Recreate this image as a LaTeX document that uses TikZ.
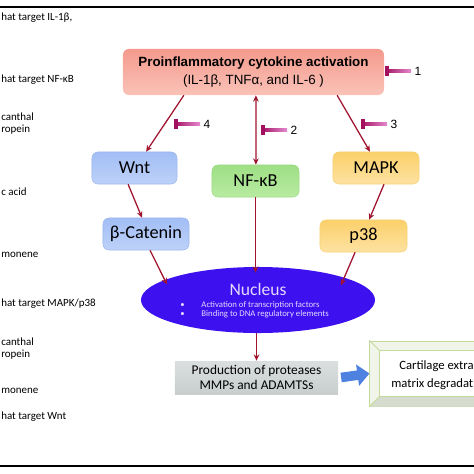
\documentclass[tikz,border=0pt]{standalone}
\usepackage{fontspec}
\setmainfont{Carlito}
\newfontfamily\arialfont{Liberation Sans}
\usetikzlibrary{shapes.geometric,arrows.meta}

\definecolor{arrowred}{HTML}{A0142E}
\definecolor{inhdark}{HTML}{A3105F}
\definecolor{inhlight}{HTML}{E58AD0}
\definecolor{nucblue}{HTML}{3D10F0}
\definecolor{nuctext}{HTML}{E2DAFF}
\definecolor{fatblue}{HTML}{4F81E0}
\definecolor{cartgreen}{HTML}{C4DA9C}
\definecolor{cartbg}{HTML}{F0F4E9}
\definecolor{cartbevel}{HTML}{D6DCCD}
\definecolor{redtop}{HTML}{F49A8C}
\definecolor{redbot}{HTML}{FAC2B8}
\definecolor{bluetop}{HTML}{A2BEF5}
\definecolor{bluebot}{HTML}{BED2F9}
\definecolor{blueline}{HTML}{9DB8EE}
\definecolor{greentop}{HTML}{9EDF84}
\definecolor{greenbot}{HTML}{B8EBA2}
\definecolor{greenline}{HTML}{A0DC87}
\definecolor{orangetop}{HTML}{FBD06A}
\definecolor{orangebot}{HTML}{FDE2A2}
\definecolor{orangeline}{HTML}{F8D278}
\definecolor{graytop}{HTML}{DADEDE}
\definecolor{graybot}{HTML}{C8CECE}

\begin{document}
\begin{tikzpicture}[x=0.025cm, y=-0.025cm, >={Stealth[length=4.5pt,width=4pt]},
    box/.style={rounded corners=0.15cm, minimum width=2.15cm, minimum height=0.8cm,
      inner sep=0pt, font=\fontsize{13}{15}\selectfont},
    bluebox/.style={box, top color=bluetop, bottom color=bluebot, draw=blueline},
    greenbox/.style={box, top color=greentop, bottom color=greenbot, draw=greenline},
    orangebox/.style={box, top color=orangetop, bottom color=orangebot, draw=orangeline},
    link/.style={draw=arrowred, line width=0.9pt},
    sidetext/.style={anchor=west, inner sep=0pt, font=\fontsize{7.8}{9}\selectfont},
    inhlabel/.style={inner sep=0pt, font=\arialfont\fontsize{8.5}{9}\selectfont},
    carttext/.style={anchor=west, inner sep=0pt, font=\fontsize{9}{10}\selectfont}]

    \useasboundingbox (0,0) rectangle (474,474);
    \clip (0,0) rectangle (474,474);

    \draw[line width=1.5pt] (0,7) coordinate (rulea) -- (474,7) coordinate (ruleb);
    \draw[line width=1.5pt] (0,466) coordinate (rulec) -- (474,466) coordinate (ruled);

    \foreach \y/\t in {18/{hat target IL-1β,}, 80/{hat target NF-κB}, 117/canthal, 130/ropein,
        192/{c acid}, 255/monene, 304/{hat target MAPK/p38}, 342/canthal, 355/ropein,
        391/monene, 417/{hat target Wnt}}
      \node[sidetext] (side\y) at (1,\y) {\t};

    \node[rounded corners=0.15cm, minimum width=6.525cm, minimum height=1.15cm, inner sep=0pt,
      top color=redtop, bottom color=redbot,
      align=center, font=\arialfont\fontsize{9.5}{12.8}\selectfont] (top) at (253.5,72)
      {\bfseries Proinflammatory cytokine activation\\(IL-1β, TNFα, and IL-6 )};

    \node[bluebox, minimum width=2.125cm] (wnt) at (134.5,168) {Wnt};
    \node[greenbox, minimum width=2.175cm] (nfkb) at (255.5,181) {NF-κB};
    \node[orangebox] (mapk) at (376,168) {MAPK};
    \node[bluebox] (cat) at (146,234) {β-Catenin};
    \node[orangebox, minimum width=2.175cm] (p38) at (363.5,236) {p38};

    \node[ellipse, fill=nucblue, minimum width=5.85cm, minimum height=1.65cm, inner sep=0pt] (nucleus) at (258,300) {};
    \node[text=nuctext, inner sep=0pt, font=\fontsize{12.5}{14}\selectfont] (nuctitle) at (258,289) {Nucleus};
    \node[text=nuctext, inner sep=0pt, anchor=north west, font=\fontsize{6.2}{7.5}\selectfont] (nucitems) at (180,300)
      {\begin{tabular}{@{}l@{\hspace{12pt}}l@{}}\textbullet & Activation of transcription factors\\[-1pt]
       \textbullet & Binding to DNA regulatory elements\end{tabular}};

    \node[minimum width=4.075cm, minimum height=0.825cm, inner sep=0pt, align=center,
      top color=graytop, bottom color=graybot,
      font=\fontsize{9.5}{11}\selectfont] (prod) at (256.5,377.5) {Production of proteases\\MMPs and ADAMTSs};

    \node[draw=cartgreen, fill=cartbg, line width=0.7pt,
      minimum width=3.25cm, minimum height=1.625cm, inner sep=0pt] (cart) at (435,373.5) {};
    \fill[cartbevel] (cart.south west) -- ++(0.25cm,0.25cm) -- ([shift={(-0.25cm,0.25cm)}]cart.south east) -- (cart.south east) -- cycle;
    \draw[cartgreen, fill=white, line width=0.6pt] ([shift={(0.25cm,-0.25cm)}]cart.north west) coordinate (cartin) rectangle ([shift={(-0.25cm,0.25cm)}]cart.south east);
    \draw[cartgreen, line width=0.6pt] (cart.north west) -- ++(0.25cm,-0.25cm) (cart.south west) -- ++(0.25cm,0.25cm);
    \node[carttext] (cartl1) at (399,366) {Cartilage extra};
    \node[carttext] (cartl2) at (391,384) {matrix degradat};

    \draw[link,->] ([xshift=-1.74cm]top.south) -- ([xshift=0.29cm]wnt.north);
    \draw[link,<->] ([xshift=0.06cm]top.south) -- ([xshift=0.01cm]nfkb.north);
    \draw[link,->] ([xshift=2.09cm]top.south) -- ([xshift=-0.15cm]mapk.north);
    \draw[link,->] ([xshift=-0.16cm]wnt.south) -- ([xshift=-0.1cm]cat.north);
    \draw[link,->] ([xshift=0.2cm]mapk.south) -- ([xshift=0.14cm]p38.north);
    \draw[link,->] (nfkb.south) -- ([yshift=-0.15cm]nucleus.north -| nfkb.south);
    \draw[link,->] ([xshift=0.1cm]cat.south) -- ([shift={(-0.2cm,-0.2cm)}]nucleus.north west);
    \draw[link,->] ([xshift=-0.21cm]p38.south) -- ([yshift=-0.22cm]nucleus.north east);
    \draw[link,->] (nucleus.south -| prod.north) -- (prod.north);
    \draw[fatblue, line width=0.24cm, -{Triangle[length=0.3cm,width=0.52cm]}] ([xshift=0.07cm]prod.east) -- (cart.west);

    \foreach \x/\y/\n in {385/71/1, 174/124/4, 261/130/2, 361/124/3} {
      \shade[left color=inhdark, right color=inhlight] (\x,\y-1.7) rectangle (\x+26,\y+1.7);
      \fill[inhdark] (\x,\y-5) rectangle (\x+3.5,\y+5);
      \node[inhlabel] (inh\n) at (\x+33,\y) {\n};
    }
  \end{tikzpicture}
\end{document}
